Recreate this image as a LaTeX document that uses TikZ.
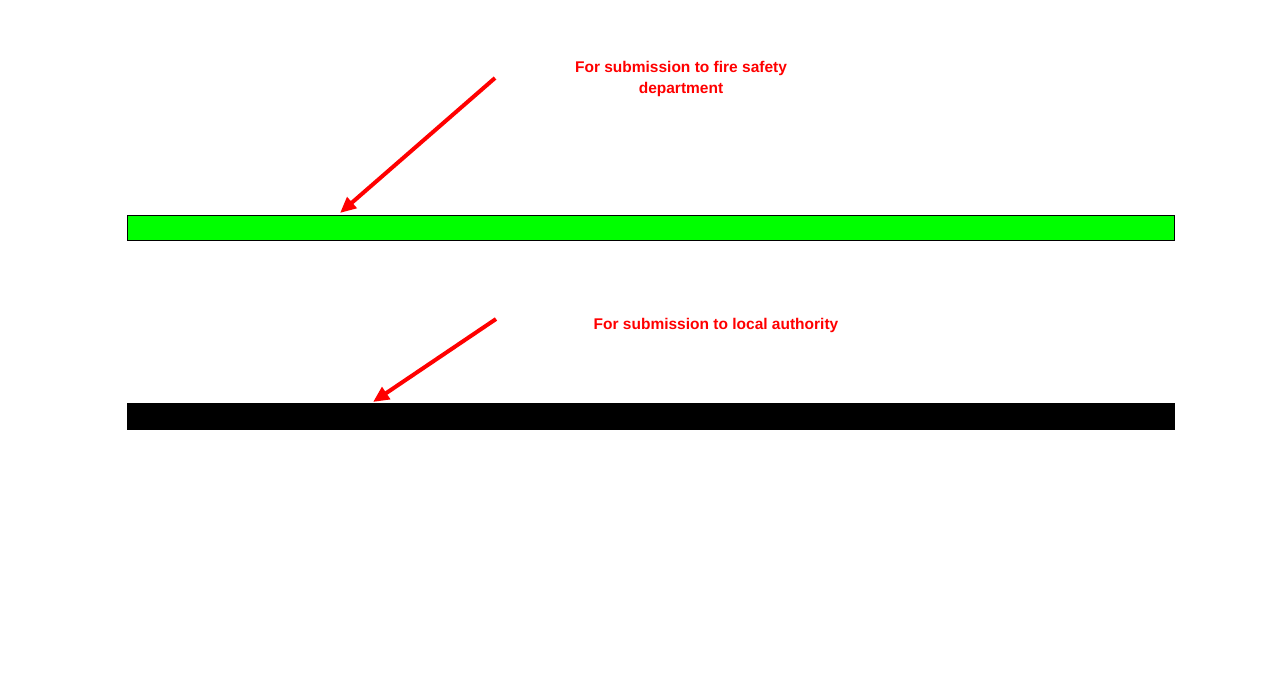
\documentclass[tikz,border=0pt]{standalone}
\usepackage{fontspec}
\setmainfont{Liberation Sans}
\usetikzlibrary{arrows.meta}
\definecolor{brightgreen}{RGB}{0,255,0}
\begin{document}
\begin{tikzpicture}[x=1pt,y=-1pt,
  lbl/.style={text=red,font=\fontsize{15.5}{21.5}\selectfont\bfseries,align=center,inner sep=0pt},
  arr/.style={red,line width=4pt,-{Triangle[length=16pt,width=14pt]}},
  bar/.style={draw=black,line width=0.8pt}]
\useasboundingbox (0,0) rectangle (1277,675);
\node[lbl] (t1) at (681,79) {For submission to fire safety\\department};
\node[lbl] (t2) at (716,325) {For submission to local authority};
\node[bar,fill=brightgreen,minimum width=1047pt,minimum height=25pt,inner sep=0pt,anchor=north west] (g) at (127,215) {};
\node[bar,fill=black,minimum width=1047pt,minimum height=26pt,inner sep=0pt,anchor=north west] (b) at (127,403) {};
\coordinate (s1) at (495,78);
\coordinate (e1) at (340,213);
\coordinate (s2) at (496,319);
\coordinate (e2) at (373,402);
\draw[arr] (s1) -- (e1);
\draw[arr] (s2) -- (e2);
\end{tikzpicture}
\end{document}
